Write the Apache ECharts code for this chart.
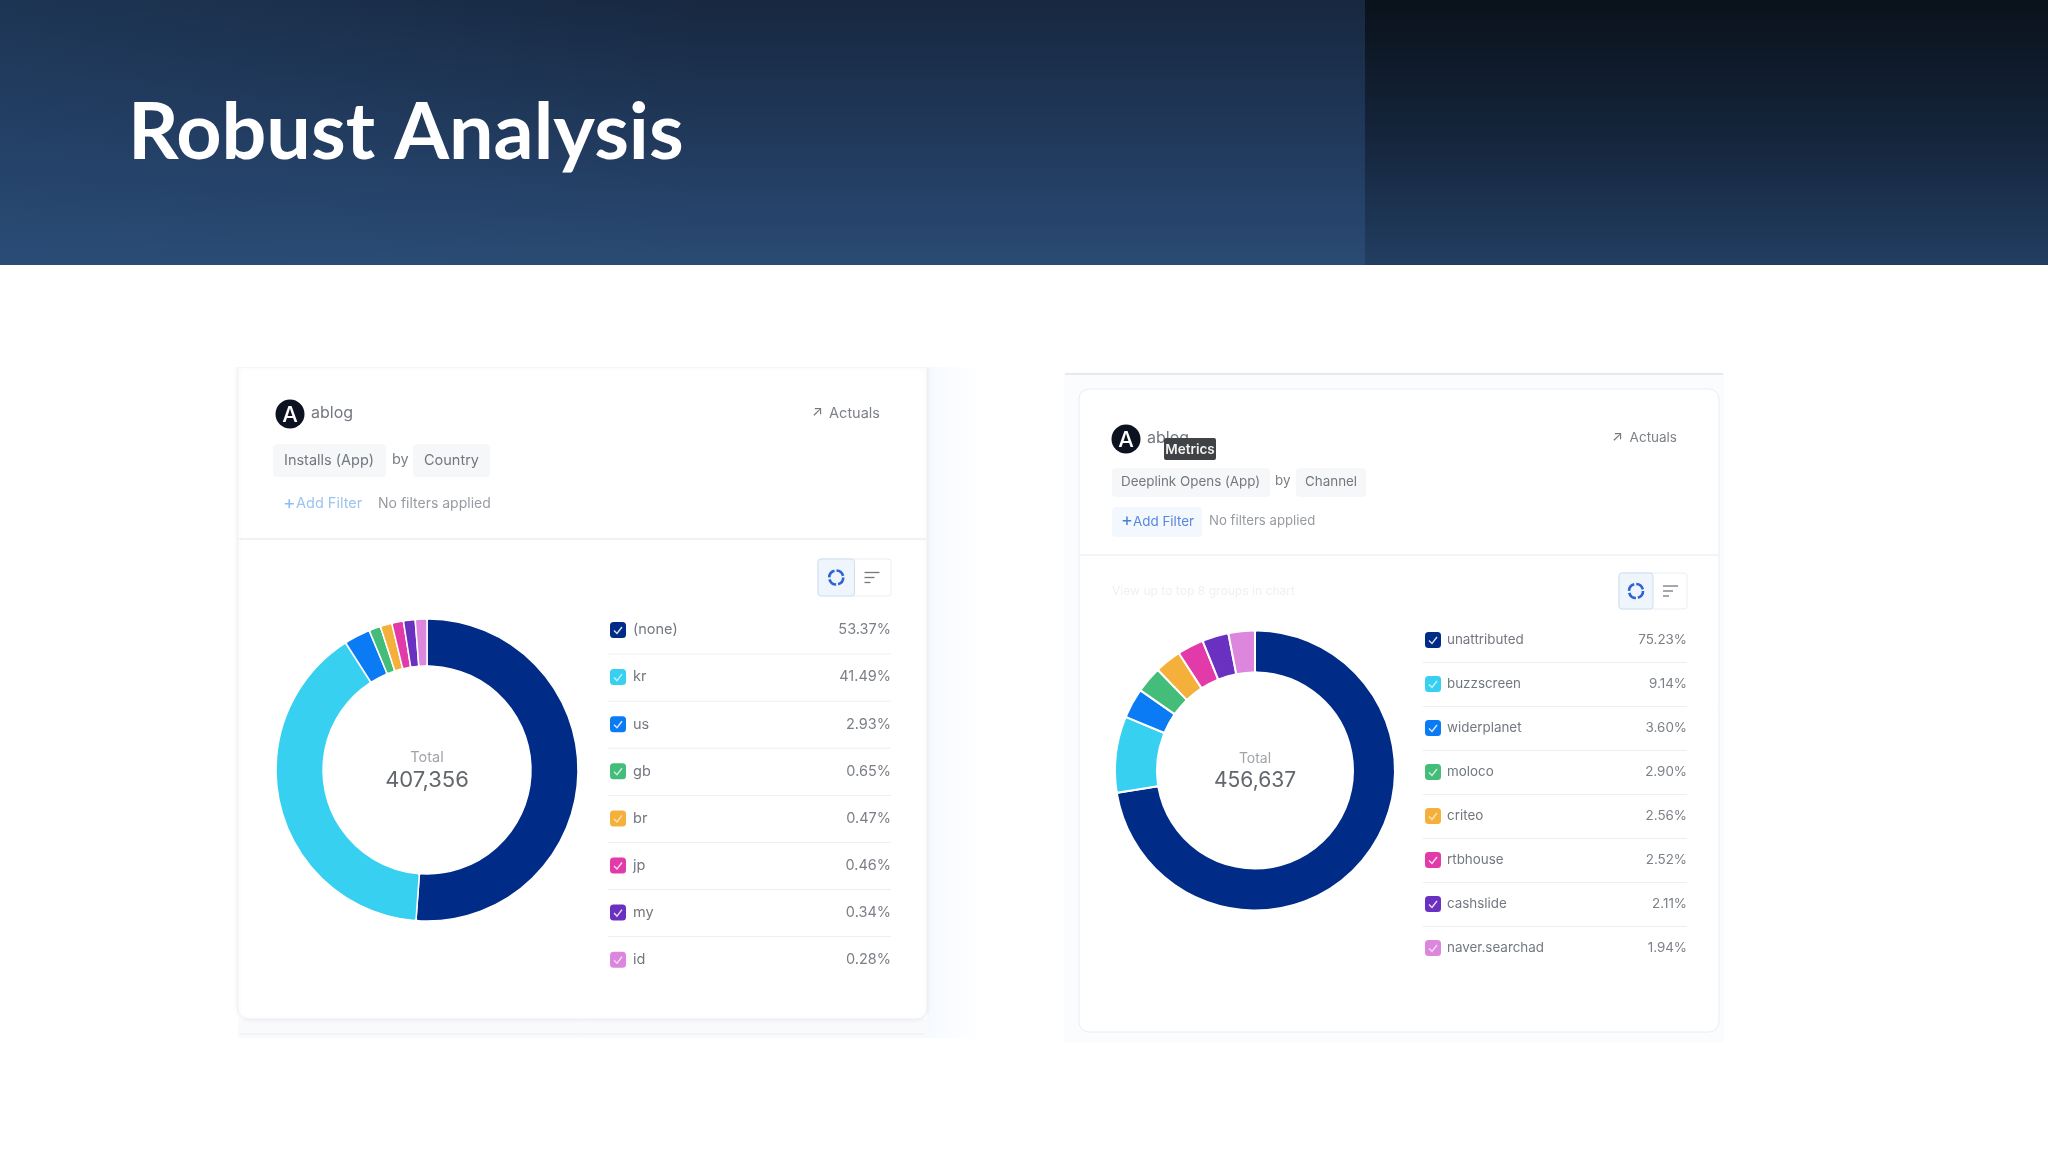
<!DOCTYPE html>
<html>
<head>
<meta charset="utf-8">
<title>Robust Analysis</title>
<script src="https://cdn.jsdelivr.net/npm/echarts@6/dist/echarts.min.js"></script>
<style>
html, body { margin: 0; padding: 0; background: #fff; }
#main { width: 2048px; height: 1152px; }
</style>
</head>
<body>
<div id="main"></div>
<script>
var countryNames = ['(none)', 'kr', 'us', 'gb', 'br', 'jp', 'my', 'id'],
    countryShare = [53.37, 41.49, 2.93, 0.65, 0.47, 0.46, 0.34, 0.28],
    channelNames = ['unattributed', 'buzzscreen', 'widerplanet', 'moloco', 'criteo', 'rtbhouse', 'cashslide', 'naver.searchad'],
    channelShare = [75.23, 9.14, 3.60, 2.90, 2.56, 2.52, 2.11, 1.94],
    countryTotal = '407,356',
    channelTotal = '456,637'

var palette = ['#002c87', '#38d0f1', '#0a7bf4', '#44bc7a', '#f5b03c', '#e23aa8', '#6a30bf', '#dc86de'],
    font = 'Inter, "Noto Sans", sans-serif',
    checkboxFade = [0, 0.15, 0, 0.1, 0.2, 0, 0, 0.15]

var chart = echarts.init(document.getElementById('main'))

function rect(x, y, w, h, fill, extra) {
    var style = { fill: fill }
    for (var k in (extra || {})) if (k !== 'r') style[k] = extra[k]
    return { type: 'rect', shape: { x: x, y: y, width: w, height: h, r: (extra && extra.r) || 0 }, style: style, silent: true }
}

function text(x, y, str, size, color, align, weight) {
    return {
        type: 'text', x: x, y: y, silent: true,
        style: {
            text: str, fontSize: size, fill: color, fontFamily: font,
            align: align || 'left', verticalAlign: 'middle', fontWeight: weight || 400
        }
    }
}

function line(x1, y1, x2, y2, color, width) {
    return {
        type: 'line', silent: true,
        shape: { x1: x1, y1: y1, x2: x2, y2: y2 },
        style: { stroke: color, lineWidth: width || 1 }
    }
}

function logo(cx, cy) {
    return [
        { type: 'circle', silent: true, shape: { cx: cx, cy: cy, r: 14.5 }, style: { fill: '#0c1220' } },
        text(cx, cy + 1, 'A', 22, '#fff', 'center', 500)
    ]
}

function toggle(x, y, w, h) {
    var half = w / 2, cx = x + half / 2, bx = x + half + 10, cy = y + h / 2
    return [
        rect(x, y, w, h, '#fff', { stroke: '#e9edf2', lineWidth: 1, r: 3 }),
        rect(x, y, half, h, '#eef5fc', { stroke: '#cfdfee', lineWidth: 1, r: 3 }),
        { type: 'circle', silent: true, shape: { cx: cx, cy: cy, r: 7 }, style: { fill: 'none', stroke: '#2f62d6', lineWidth: 2.6, lineDash: [9, 2] } },
        line(bx, cy - 5, bx + 15, cy - 5, '#73787f', 1.3),
        line(bx, cy, bx + 10, cy, '#73787f', 1.3),
        line(bx, cy + 5, bx + 6, cy + 5, '#73787f', 1.3)
    ]
}

// legend rows on the right of a donut, built from the data arrays
function legendRows(names, shares, boxX, textX, right, top, step, size) {
    var out = []
    names.forEach(function (name, i) {
        var y = top + i * step
        out.push(rect(boxX - 8, y - 8, 16, 16, palette[i], { r: 3.5 }))
        out.push({
            type: 'polyline', silent: true,
            shape: { points: [[boxX - 4, y + 0.5], [boxX - 1, y + 3.5], [boxX + 4, y - 3]] },
            style: { fill: 'none', stroke: '#fff', lineWidth: 1.4, opacity: 0.85 - checkboxFade[i] }
        })
        out.push(text(textX, y, name, size, '#73787f'))
        out.push(text(right, y, shares[i].toFixed(2) + '%', size, '#7b8087', 'right'))
        if (i < names.length - 1) {
            out.push(line(boxX - 10, y + step / 2 + 0.5, right, y + step / 2 + 0.5, '#eceef1', 1))
        }
    })
    return out
}

var graphics = [
    // header band
    rect(0, 0, 1365, 265, {
        type: 'linear', x: 0, y: 0, x2: 0, y2: 1,
        colorStops: [{ offset: 0, color: '#172840' }, { offset: 0.5, color: '#20385a' }, { offset: 1, color: '#2a4b74' }]
    }),
    rect(0, 0, 700, 265, {
        type: 'linear', x: 0, y: 0, x2: 1, y2: 0,
        colorStops: [{ offset: 0, color: 'rgba(42,80,125,0.32)' }, { offset: 1, color: 'rgba(42,80,125,0)' }]
    }),
    rect(1365, 0, 683, 265, {
        type: 'linear', x: 0, y: 0, x2: 0, y2: 1,
        colorStops: [{ offset: 0, color: '#0a121b' }, { offset: 0.5, color: '#14243a' }, { offset: 1, color: '#223e62' }]
    }),
    {
        type: 'text', x: 128, y: 134, silent: true,
        style: { text: 'Robust Analysis', fontSize: 79, fontWeight: 700, fill: '#fff', fontFamily: 'Lato, "Open Sans", sans-serif', verticalAlign: 'middle' }
    },

    // left screenshot
    rect(927, 367, 55, 671, {
        type: 'linear', x: 0, y: 0, x2: 1, y2: 0,
        colorStops: [{ offset: 0, color: '#f6faff' }, { offset: 1, color: '#ffffff' }]
    }),
    rect(238, 1019, 689, 19, '#f9fafc'),
    rect(238, 367, 689, 652, '#fff', { r: [0, 0, 10, 10], stroke: '#eef0f3', lineWidth: 1, shadowBlur: 5, shadowColor: 'rgba(40,60,90,0.08)' }),
    rect(232, 360, 702, 7, '#fff'),
    line(240, 1034, 925, 1034, '#eceef1', 1),
    line(239, 539, 926, 539, '#eceef1', 1.5)
].concat(
    logo(290, 414),
    [
        text(311, 413, 'ablog', 16, '#73787f'),
        text(812, 412, '↗', 14, '#777', 'left'),
        text(880, 413.5, 'Actuals', 14.5, '#7d8289', 'right'),
        rect(273, 444, 113, 33, '#f6f7f8', { r: 4 }),
        text(284, 461, 'Installs (App)', 14.5, '#73787f'),
        text(392, 460, 'by', 14.5, '#7b8087'),
        rect(413, 444, 77, 33, '#f6f7f8', { r: 4 }),
        text(424, 461, 'Country', 14.5, '#73787f'),
        text(283, 503, '+', 19, '#8dbcee'),
        text(296, 504, 'Add Filter', 14.5, '#9cc4ef'),
        text(378, 504, 'No filters applied', 14, '#979ba1')
    ],
    toggle(818, 559, 73, 37),
    legendRows(countryNames, countryShare, 618, 633, 891, 630, 47.1, 14.5),
    [
        text(427, 758, 'Total', 14.5, '#a0a4a9', 'center'),
        text(427, 780, countryTotal, 22, '#62666d', 'center')
    ],

    // right screenshot
    [
        rect(1064, 372, 660, 670, '#fafcfd'),
        line(1065, 374, 1723, 374, '#e6eaee', 2),
        rect(1079, 389, 640, 643, '#fff', { r: 10, stroke: '#e9eef3', lineWidth: 1 }),
        line(1080, 555, 1718, 555, '#eef0f3', 1.5)
    ],
    logo(1126, 439),
    [
        text(1147, 438, 'ablog', 16, '#73787f'),
        rect(1164, 438, 52, 22, '#404345', { r: 2 }),
        text(1190, 449.5, 'Metrics', 13.5, '#f1f2f3', 'center', 600),
        text(1612, 437, '↗', 14, '#777', 'left'),
        text(1677, 438, 'Actuals', 13.5, '#7d8289', 'right'),
        rect(1112, 468, 158, 29, '#f6f7f8', { r: 4 }),
        text(1121, 482, 'Deeplink Opens (App)', 13.4, '#73787f'),
        text(1275, 481, 'by', 13.4, '#7b8087'),
        rect(1296, 468, 70, 29, '#f6f7f8', { r: 4 }),
        text(1305, 482, 'Channel', 13.4, '#73787f'),
        rect(1112, 507, 90, 30, '#f2f8fd', { r: 4 }),
        text(1121, 521, '+', 18, '#4c7fd9'),
        text(1133, 521.5, 'Add Filter', 13.4, '#5a86dc'),
        text(1209, 521.5, 'No filters applied', 13.2, '#979ba1'),
        text(1112, 591, 'View up to top 8 groups in chart', 12.1, '#eef0f2')
    ],
    toggle(1619, 573, 68, 36),
    legendRows(channelNames, channelShare, 1433, 1447, 1687, 640, 44, 13.4),
    [
        text(1255, 758.5, 'Total', 14, '#a0a4a9', 'center'),
        text(1255, 781, channelTotal, 21, '#62666d', 'center')
    ]
)

function donut(names, shares, center, radius, minAngle, gap) {
    return {
        type: 'pie',
        silent: true,
        animation: false,
        center: center,
        radius: radius,
        startAngle: 90,
        minAngle: minAngle,
        label: { show: false },
        labelLine: { show: false },
        itemStyle: { borderColor: '#fff', borderWidth: gap, borderRadius: 2 },
        data: names.map(function (name, i) {
            return { name: name, value: shares[i], itemStyle: { color: palette[i] } }
        })
    }
}

var option = {
    animation: false,
    backgroundColor: '#fff',
    graphic: { elements: graphics },
    series: [
        donut(countryNames, countryShare, [427, 770], [104, 151], 4.5, 1.5),
        donut(channelNames, channelShare, [1255, 770.5], [98, 140], 11, 2)
    ]
}

chart.setOption(option)
</script>
</body>
</html>
